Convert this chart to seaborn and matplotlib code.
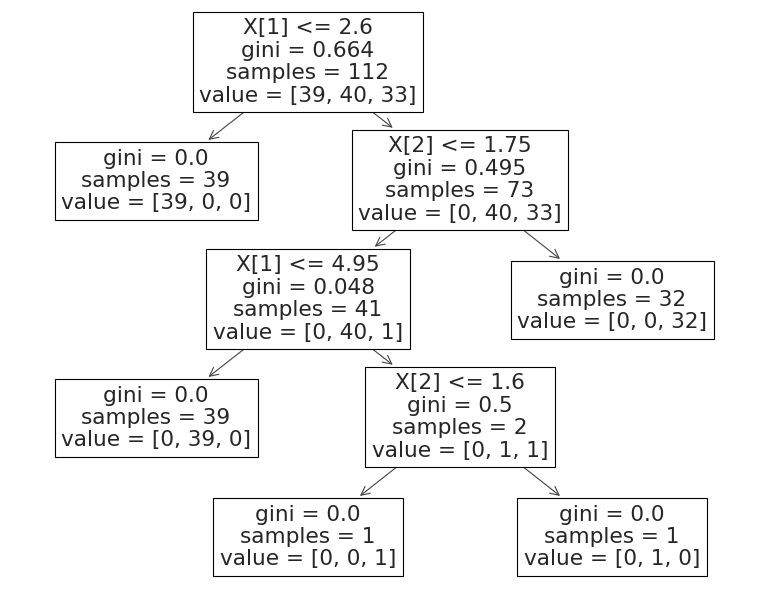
import matplotlib
matplotlib.use("Agg")
import matplotlib.pyplot as plt
import seaborn as sns

sns.set_style("white")
plt.rcParams['font.family'] = ['DejaVu Sans']

node_labels = [
    "X[1] <= 2.6\ngini = 0.664\nsamples = 112\nvalue = [39, 40, 33]",
    "gini = 0.0\nsamples = 39\nvalue = [39, 0, 0]",
    "X[2] <= 1.75\ngini = 0.495\nsamples = 73\nvalue = [0, 40, 33]",
    "X[1] <= 4.95\ngini = 0.048\nsamples = 41\nvalue = [0, 40, 1]",
    "gini = 0.0\nsamples = 32\nvalue = [0, 0, 32]",
    "gini = 0.0\nsamples = 39\nvalue = [0, 39, 0]",
    "X[2] <= 1.6\ngini = 0.5\nsamples = 2\nvalue = [0, 1, 1]",
    "gini = 0.0\nsamples = 1\nvalue = [0, 0, 1]",
    "gini = 0.0\nsamples = 1\nvalue = [0, 1, 0]",
]
parents = [None, 0, 0, 2, 2, 3, 3, 6, 6]
depths = [0, 1, 1, 2, 2, 3, 3, 4, 4]
node_x = [308, 156, 460, 308, 612, 156, 460, 308, 612]
node_y = [62, 181, 180, 299, 300, 418, 417, 537, 537]

fig = plt.figure(figsize=(7.68, 6.0), dpi=100)
ax = fig.add_axes([0, 0, 1, 1])
ax.set_xlim(0, 768)
ax.set_ylim(600, 0)
ax.axis("off")

bbox = dict(boxstyle="square,pad=0.3", fc="white", ec="black", lw=0.8)
for i, lab in enumerate(node_labels):
    z = 10 - depths[i]
    if parents[i] is None:
        ax.text(node_x[i], node_y[i], lab, ha="center", va="center",
                fontsize=15.6, bbox=bbox, zorder=z, linespacing=1.15)
    else:
        p = parents[i]
        ax.annotate(lab, xy=(node_x[p], node_y[p]), xytext=(node_x[i], node_y[i]),
                    xycoords="data", textcoords="data", ha="center", va="center",
                    fontsize=15.6, bbox=bbox, zorder=z, linespacing=1.15,
                    arrowprops=dict(arrowstyle="<-", color="#444444", lw=0.8))

fig.savefig("out.png", dpi=100)
